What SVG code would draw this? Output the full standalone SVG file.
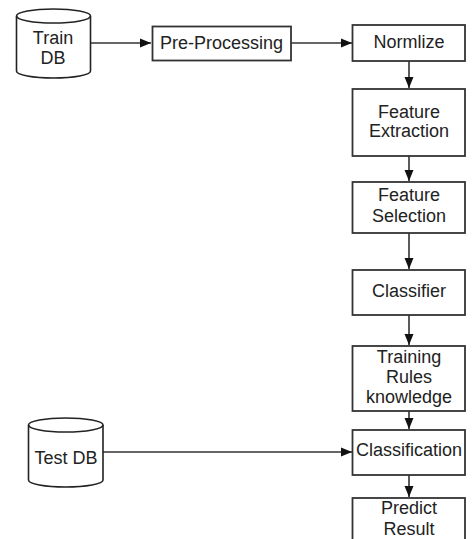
<svg xmlns="http://www.w3.org/2000/svg" width="474" height="539" viewBox="0 0 474 539">
<style>
.s{fill:#fff;stroke:#333;stroke-width:1.8}
.c{fill:none;stroke:#222;stroke-width:1.6}
.l{stroke:#333;stroke-width:1.6;fill:none}
text{font-family:"Liberation Sans",Arial,sans-serif;font-size:18px;fill:#222;text-anchor:middle}
</style>
<defs><marker id="a" markerUnits="userSpaceOnUse" markerWidth="12" markerHeight="10" refX="11" refY="5" orient="auto"><path d="M0 0.500L11 5L0 9.500Z" fill="#111"/></marker></defs>
<rect width="474" height="539" fill="#fff"/>
<g id="connectors">
<path class="l" marker-end="url(#a)" d="M91 43H151"/>
<path class="l" marker-end="url(#a)" d="M291 43H352"/>
<path class="l" marker-end="url(#a)" d="M409 61V88"/>
<path class="l" marker-end="url(#a)" d="M409 156V181"/>
<path class="l" marker-end="url(#a)" d="M409 233V269"/>
<path class="l" marker-end="url(#a)" d="M409 315V345"/>
<path class="l" marker-end="url(#a)" d="M409 411V429"/>
<path class="l" marker-end="url(#a)" d="M409 475V497"/>
<path class="l" marker-end="url(#a)" d="M103 452H352"/>
</g>
<g id="train-db"><path class="c" d="M16.500 16V71C16.500 75 33 78 53.500 78S90.500 75 90.500 71V16"/><ellipse class="c" cx="53.500" cy="16" rx="37" ry="7"/><text x="53" y="44">Train</text><text x="53" y="64">DB</text></g>
<g id="pre-processing"><rect class="s" x="152.500" y="26.500" width="138.500" height="34"/><text x="221.500" y="49">Pre-Processing</text></g>
<g id="normlize"><rect class="s" x="352.500" y="25" width="112.500" height="36"/><text x="409" y="48">Normlize</text></g>
<g id="feature-extraction"><rect class="s" x="352.500" y="89" width="112.500" height="67"/><text x="409" y="118">Feature</text><text x="409" y="137">Extraction</text></g>
<g id="feature-selection"><rect class="s" x="352.500" y="182" width="112.500" height="51"/><text x="409" y="201">Feature</text><text x="409" y="222">Selection</text></g>
<g id="classifier"><rect class="s" x="352.500" y="270" width="112.500" height="45"/><text x="409" y="297">Classifier</text></g>
<g id="training-rules"><rect class="s" x="352.500" y="346" width="112.500" height="65"/><text x="409" y="363">Training</text><text x="409" y="383">Rules</text><text x="409" y="403">knowledge</text></g>
<g id="classification"><rect class="s" x="352.500" y="430" width="112.500" height="45"/><text x="409" y="456">Classification</text></g>
<g id="predict-result"><rect class="s" x="352.500" y="498" width="112.500" height="50"/><text x="409" y="514">Predict</text><text x="409" y="535">Result</text></g>
<g id="test-db"><path class="c" d="M28.500 425V480C28.500 484 45 487 65.500 487S103 484 103 480V425"/><ellipse class="c" cx="65.750" cy="425" rx="37.250" ry="7"/><text x="66" y="464">Test DB</text></g>
</svg>
